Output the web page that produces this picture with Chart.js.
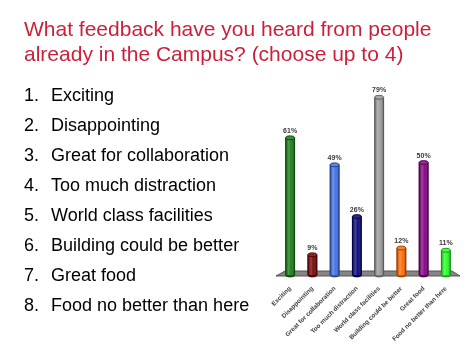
<!DOCTYPE html>
<html><head><meta charset="utf-8">
<script src="https://cdn.jsdelivr.net/npm/chart.js@4/dist/chart.umd.min.js"></script>
<style>
html,body{margin:0;padding:0;background:#fff;width:474px;height:355px;overflow:hidden;}
#wrap{position:relative;width:474px;height:355px;}
#c{position:absolute;left:0;top:0;}
.title{position:absolute;left:24px;top:16px;font-family:"Liberation Sans",Arial,sans-serif;font-size:21px;line-height:25px;color:#cc1f3a;white-space:nowrap;}
.list{position:absolute;left:24px;top:80px;font-family:"Liberation Sans",Arial,sans-serif;font-size:18px;line-height:30px;color:#000;white-space:nowrap;}
.list .n{display:inline-block;width:27px;}
</style>
</head><body>
<div id="wrap">
<canvas id="c" width="474" height="355"></canvas>
<div class="title" id="title"></div>
<div class="list" id="list"></div>
</div>
<script>
const titleLines = ["What feedback have you heard from people", "already in the Campus? (choose up to 4)"];
const categories = ["Exciting", "Disappointing", "Great for collaboration", "Too much distraction", "World class facilities", "Building could be better", "Great food", "Food no better than here"];
const values = [61, 9, 49, 26, 79, 12, 50, 11];
const valueLabels = ["61%", "9%", "49%", "26%", "79%", "12%", "50%", "11%"];
const barColors = ["#127a12", "#7a0000", "#3b6fe8", "#000078", "#9a9a9a", "#ff6a00", "#820082", "#22ff22"];

document.getElementById('title').innerHTML = titleLines.join('<br>');
document.getElementById('list').innerHTML = categories.map((c,i)=>'<div><span class="n">'+(i+1)+'.</span>'+c+'</div>').join('');

function shade(hex, f){
  let r=parseInt(hex.slice(1,3),16), g=parseInt(hex.slice(3,5),16), b=parseInt(hex.slice(5,7),16);
  if(f<0){ r=r*(1+f); g=g*(1+f); b=b*(1+f);} else { r=r+(255-r)*f; g=g+(255-g)*f; b=b+(255-b)*f; }
  return 'rgb('+Math.round(r)+','+Math.round(g)+','+Math.round(b)+')';
}

const cylinder = {
  id:'cylinder',
  beforeDatasetsDraw(chart){
    const ctx=chart.ctx, a=chart.chartArea;
    const yb=a.bottom;
    ctx.save();
    ctx.beginPath();
    ctx.moveTo(a.left-3, yb+1);
    ctx.lineTo(a.left+6, yb-4);
    ctx.lineTo(a.right-5, yb-4);
    ctx.lineTo(a.right+3, yb+1);
    ctx.closePath();
    ctx.fillStyle='#858585';
    ctx.fill();
    ctx.strokeStyle='#555';
    ctx.lineWidth=1;
    ctx.stroke();
    ctx.restore();
  },
  afterDatasetsDraw(chart){
    const ctx=chart.ctx;
    const meta=chart.getDatasetMeta(0);
    ctx.save();
    meta.data.forEach((el,i)=>{
      const col=barColors[i];
      const w=el.width, x0=el.x-w/2, x1=el.x+w/2;
      const g=ctx.createLinearGradient(x0,0,x1,0);
      g.addColorStop(0,'rgba(0,0,0,0.35)');
      g.addColorStop(0.35,'rgba(255,255,255,0.25)');
      g.addColorStop(0.6,'rgba(255,255,255,0.05)');
      g.addColorStop(1,'rgba(0,0,0,0.4)');
      ctx.fillStyle=g;
      ctx.fillRect(x0, el.y, w, el.base-el.y);
      ctx.strokeStyle=shade(col,-0.5);
      ctx.lineWidth=0.8;
      ctx.beginPath();
      ctx.moveTo(x0,el.y); ctx.lineTo(x0,el.base);
      ctx.moveTo(x1,el.y); ctx.lineTo(x1,el.base);
      ctx.stroke();
      ctx.beginPath();
      ctx.ellipse(el.x, el.base, w/2, 2, 0, 0, Math.PI);
      ctx.fillStyle=shade(col,-0.2);
      ctx.fill();
      ctx.stroke();
      ctx.beginPath();
      ctx.ellipse(el.x, el.y, w/2, 2, 0, 0, Math.PI*2);
      ctx.fillStyle=shade(col,0.15);
      ctx.fill();
      ctx.stroke();
      ctx.fillStyle='#3a3a3a';
      ctx.font='bold 7px "Liberation Sans", Arial, sans-serif';
      ctx.textAlign='center';
      ctx.textBaseline='alphabetic';
      ctx.fillText(valueLabels[i], el.x, el.y-5);
    });
    ctx.restore();
  }
};

new Chart(document.getElementById('c'), {
  type:'bar',
  data:{labels:categories, datasets:[{data:values, backgroundColor:barColors, borderWidth:0, barThickness:9}]},
  options:{
    responsive:false, animation:false,
    layout:{padding:{left:279, right:17, top:95, bottom:10}},
    plugins:{legend:{display:false}, tooltip:{enabled:false}},
    scales:{
      y:{display:false, min:0, max:80},
      x:{
        grid:{display:false}, border:{display:false},
        ticks:{minRotation:45, maxRotation:45, padding:2, autoSkip:false,
          color:'#404040', font:{family:'"Liberation Sans", Arial, sans-serif', size:6.3, weight:'bold'}},
        afterFit(s){ s.height=70; }
      }
    }
  },
  plugins:[cylinder]
});
</script>
</body></html>
